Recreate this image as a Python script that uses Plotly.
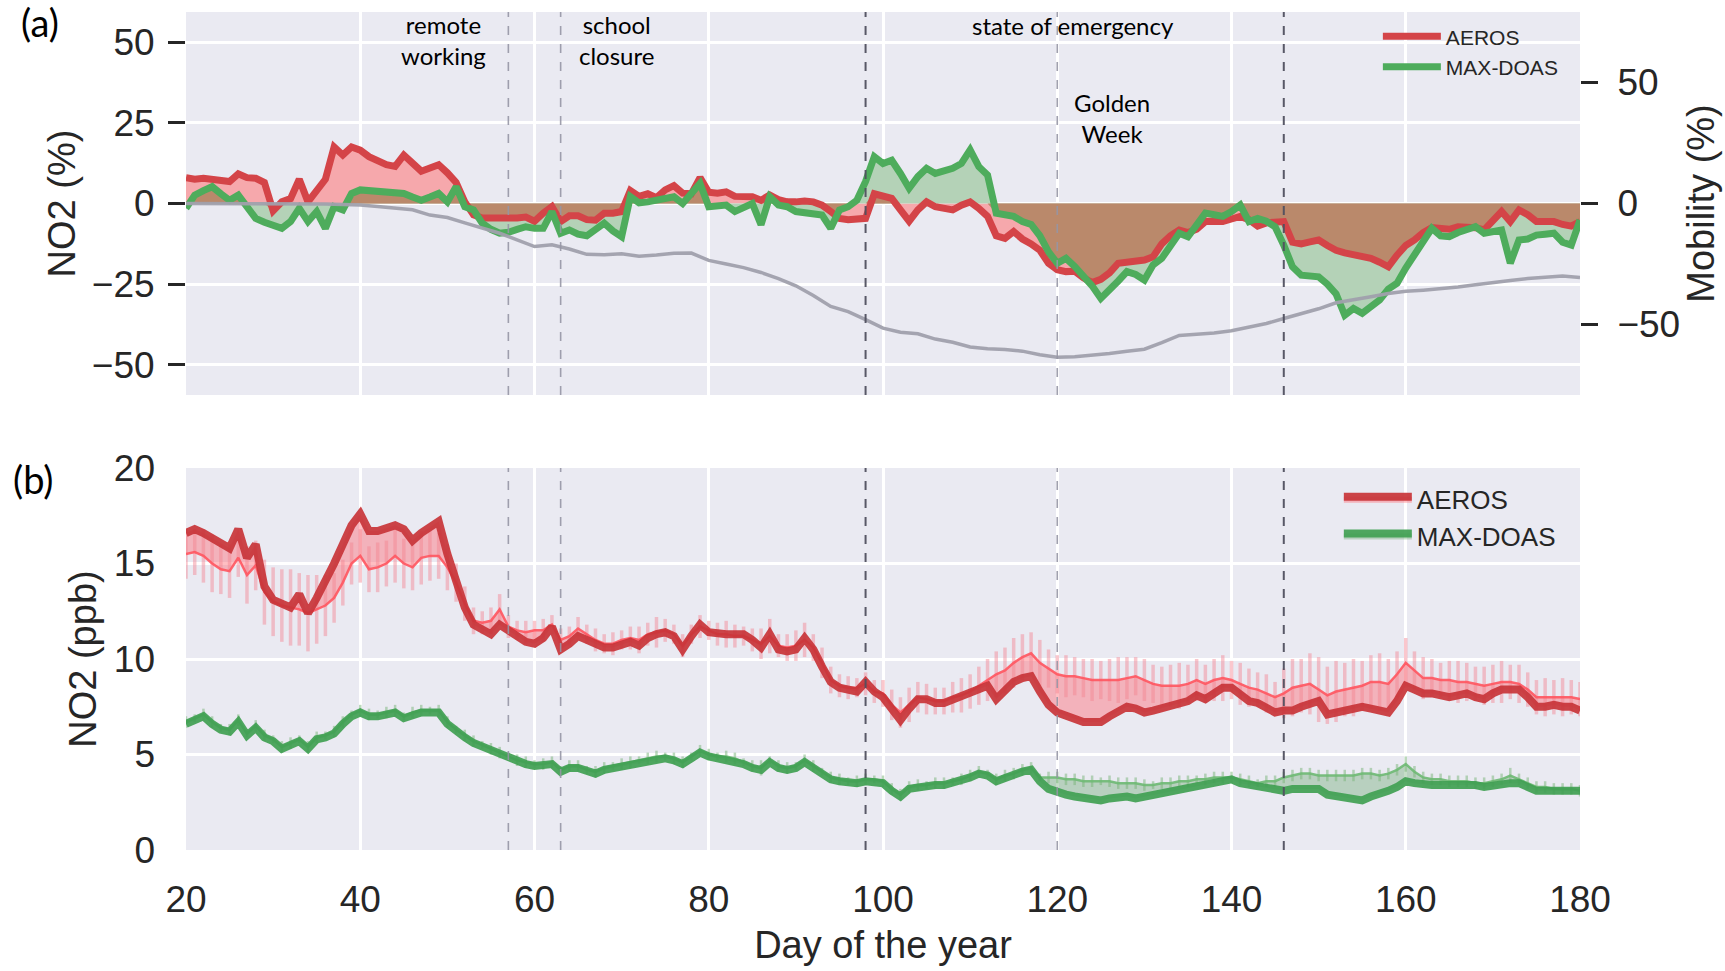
import numpy as np
import plotly.graph_objects as go

# ---------------- data ----------------
DAYS = list(range(20, 181))

# panel (a): relative change of NO2 (%)
AEROS_PCT = [
    8.0, 7.5, 7.8, 7.5, 7.3, 6.8, 9.2, 8.0, 7.8, 6.5,
    -2.3, 0.5, 1.5, 7.5, 0.5, 4.0, 7.5, 17.5, 15.0, 17.5,
    16.5, 14.5, 13.0, 12.0, 11.5, 15.0, 12.5, 10.0, 11.0, 12.0,
    9.5, 6.5, 0.5, -3.5, -4.5, -4.5, -5.0, -5.0, -4.5, -4.2,
    -5.5, -3.0, -1.0, -5.6, -3.8, -3.8, -5.0, -5.2, -3.0, -3.0,
    -2.5, 4.0, 2.2, 3.0, 1.8, 4.2, 5.5, 3.2, 3.0, 8.0,
    3.5, 3.2, 3.6, 2.2, 2.0, 2.1, 1.0, 2.6, 1.2, 0.5,
    0.5, 0.8, 0.5, -0.5, -2.5, -4.6, -5.0, -4.8, -4.6, 3.0,
    2.2, 1.6, -2.0, -5.5, -2.0, 0.5, -1.0, -1.5, -2.0, -0.5,
    0.5, -1.5, -4.0, -10.0, -10.8, -8.7, -11.0, -12.5, -14.5, -18.5,
    -20.5, -21.1, -21.0, -23.0, -24.5, -23.5, -21.5, -18.5, -18.2, -18.0,
    -17.5, -16.5, -12.5, -10.0, -8.2, -9.0, -8.0, -5.6, -5.6, -5.6,
    -4.8, -4.0, -5.0, -7.0, -6.0, -5.6, -5.6, -12.0, -12.5, -11.9,
    -11.3, -13.0, -14.5, -15.3, -15.8, -16.5, -17.0, -18.2, -19.6, -16.0,
    -13.0, -11.3, -9.0, -7.5, -8.0, -8.0, -7.2, -7.2, -7.5, -8.2,
    -5.0, -2.5, -5.6, -2.0, -3.5, -5.6, -5.6, -5.6, -6.5, -7.0,
    -5.6,
]
MAXDOAS_PCT = [
    -1.5, 2.6, 4.0, 5.2, 3.0, 1.0, 2.6, -1.0, -4.6, -5.8,
    -6.5, -7.7, -5.6, -1.5, -5.6, -2.5, -7.7, -1.0, -2.0, 3.1,
    4.2, 4.0, 3.8, 3.6, 3.4, 3.1, 2.0, 1.0, 2.0, 3.1,
    0.5, 5.2, -1.0, -2.0, -6.1, -8.0, -9.2, -8.9, -8.0, -7.2,
    -7.7, -7.7, -2.5, -9.2, -8.2, -9.5, -10.0, -8.0, -6.1, -8.5,
    -10.3, 2.1, 0.2, 0.5, 1.0, 1.6, 2.1, 0.0, 3.0, 6.2,
    -1.0, -0.8, -0.5, -2.5, -1.0, 0.0, -6.6, 2.1, -0.5, -1.0,
    -2.5, -2.8, -3.0, -3.6, -7.7, -2.0, -1.0, 1.0, 6.8, 14.5,
    12.4, 13.4, 9.3, 4.7, 8.3, 10.9, 9.3, 10.0, 10.9, 12.4,
    16.6, 11.4, 8.8, -3.0, -3.5, -4.0, -5.6, -6.5, -10.0, -15.0,
    -18.5, -17.0, -19.5, -22.5, -25.5, -29.4, -27.0, -24.0, -21.1, -22.0,
    -23.7, -19.0, -17.0, -13.0, -9.2, -10.3, -7.0, -3.0, -3.5, -4.0,
    -2.5, -0.5, -5.6, -4.6, -5.5, -7.2, -12.9, -19.6, -22.2, -22.5,
    -22.7, -25.0, -28.0, -34.6, -32.5, -34.0, -32.0, -29.9, -26.5, -24.7,
    -20.0, -16.0, -12.0, -7.7, -10.0, -10.3, -9.0, -8.2, -7.2, -9.2,
    -8.6, -8.2, -18.5, -11.3, -11.0, -9.8, -9.5, -9.2, -12.0, -12.9,
    -5.1,
]
MOB_DAYS = list(range(20, 181, 2))
MOBILITY = [
    0.0, 0.0, 0.0, 0.0, 0.0, 0.0, 0.0, 0.0, -0.2, -0.4,
    -0.6, -1.2, -1.8, -2.6, -4.8, -5.8, -8.0, -10.0, -12.3, -15.0,
    -17.8, -17.1, -18.8, -21.0, -21.2, -20.8, -21.8, -21.3, -20.6, -20.5,
    -23.5, -25.0, -26.5, -28.5, -31.0, -34.0, -38.0, -42.5, -44.7, -48.0,
    -51.5, -53.2, -53.8, -56.0, -57.3, -59.3, -60.0, -60.3, -61.0, -62.5,
    -63.5, -63.3, -62.8, -62.0, -61.0, -60.2, -57.5, -54.5, -54.0, -53.5,
    -52.6, -51.2, -49.6, -47.5, -45.5, -43.5, -41.0, -39.6, -38.5, -37.2,
    -36.3, -35.8, -35.3, -34.5, -33.6, -32.6, -31.8, -31.0, -30.5, -30.0,
    -30.6,
]

# panel (b): NO2 concentrations (ppb)
AEROS_PPB = [
    16.6, 16.8, 16.6, 16.3, 16.0, 15.8, 16.8, 15.3, 16.0, 13.8,
    13.1, 12.9, 12.7, 13.4, 12.4, 13.2, 14.0, 15.0, 16.0, 17.0,
    17.6, 16.7, 16.7, 16.8, 17.0, 16.8, 16.2, 16.6, 16.9, 17.2,
    15.5, 14.0, 12.7, 11.8, 11.5, 11.3, 11.8, 11.5, 11.1, 10.9,
    10.8, 11.1, 11.7, 10.5, 10.8, 11.2, 11.0, 10.8, 10.6, 10.6,
    10.8, 10.9, 10.7, 11.1, 11.3, 11.4, 11.2, 10.5, 11.2, 11.8,
    11.4, 11.3, 11.3, 11.3, 11.3, 11.0, 10.6, 11.3, 10.5, 10.4,
    10.5, 11.1, 10.5, 9.6, 8.8, 8.5, 8.4, 8.3, 8.8, 8.3,
    8.0, 7.4, 6.8, 7.4, 7.9, 7.9, 7.7, 7.7, 7.9, 8.0,
    8.2, 8.5, 8.6, 7.9, 8.3, 8.8, 9.0, 9.1, 8.3, 7.6,
    7.2, 7.0, 6.9, 6.7, 6.7, 6.7, 7.0, 7.3, 7.5, 7.4,
    7.2, 7.3, 7.4, 7.5, 7.6, 7.8, 8.1, 7.9, 8.2, 8.5,
    8.5, 8.1, 7.8, 7.7, 7.5, 7.2, 7.3, 7.3, 7.5, 7.6,
    7.8, 7.1, 7.2, 7.3, 7.4, 7.5, 7.4, 7.3, 7.2, 7.8,
    8.6, 8.4, 8.2, 8.2, 8.1, 8.0, 8.1, 8.2, 8.0, 7.9,
    8.2, 8.4, 8.4, 8.4, 8.0, 7.5, 7.5, 7.6, 7.5, 7.5,
    7.3,
]
AEROS_PPB_REF = [
    15.5, 15.6, 15.4, 15.0, 14.7, 14.6, 15.3, 14.4, 14.9, 13.5,
    13.0, 12.8, 12.7, 12.6, 12.4, 12.6, 12.8, 13.2, 14.0, 15.0,
    15.4, 14.7, 14.8, 15.0, 15.4, 15.0, 14.8, 15.3, 15.4, 15.4,
    14.8, 14.0, 12.9, 12.0, 11.9, 12.0, 12.6, 11.7, 11.5, 11.4,
    11.5, 11.5, 11.8, 11.0, 11.2, 11.6, 11.3, 11.0, 10.8, 10.8,
    11.0, 11.1, 11.0, 11.3, 11.4, 11.5, 11.3, 10.7, 11.3, 11.7,
    11.5, 11.3, 11.3, 11.2, 11.2, 11.0, 10.8, 11.2, 10.7, 10.6,
    10.7, 11.0, 10.6, 9.8, 8.9, 8.6, 8.5, 8.5, 8.7, 8.3,
    8.2, 7.6, 7.2, 7.6, 8.0, 7.9, 7.8, 7.8, 8.0, 8.1,
    8.3, 8.6, 8.9, 9.2, 9.4, 9.8, 10.1, 10.3, 9.8, 9.5,
    9.2, 9.1, 9.1, 9.0, 8.9, 8.9, 8.9, 8.9, 9.0, 9.1,
    8.9, 8.7, 8.6, 8.6, 8.6, 8.7, 8.9, 8.7, 8.9, 9.0,
    8.9, 8.7, 8.5, 8.4, 8.2, 8.0, 8.2, 8.5, 8.6, 8.7,
    8.4, 8.1, 8.3, 8.4, 8.5, 8.6, 8.8, 8.8, 8.7, 9.2,
    9.8, 9.4, 9.0, 9.0, 8.9, 8.9, 8.8, 8.8, 8.7, 8.6,
    8.7, 8.8, 8.8, 8.7, 8.4, 8.0, 8.0, 8.0, 8.0, 8.0,
    7.9,
]
AEROS_PPB_ERR = [
    1.3, 1.2, 1.4, 1.5, 1.3, 1.4, 1.0, 1.5, 1.3, 1.7,
    1.8, 1.9, 2.0, 1.9, 2.0, 1.8, 1.6, 1.3, 1.2, 1.1,
    1.4, 1.2, 1.3, 1.2, 1.4, 1.3, 1.2, 1.4, 1.3, 1.2,
    1.2, 1.0, 0.9, 0.7, 0.6, 0.7, 0.8, 0.6, 0.5, 0.6,
    0.5, 0.6, 0.5, 0.6, 0.5, 0.6, 0.5, 0.6, 0.5, 0.6,
    0.5, 0.6, 0.7, 0.6, 0.8, 0.6, 0.5, 0.6, 0.5, 0.6,
    0.5, 0.6, 0.7, 0.6, 0.5, 0.6, 0.8, 0.9, 0.6, 0.7,
    0.8, 0.9, 0.7, 0.8, 0.7, 0.6, 0.6, 0.5, 0.6, 0.6,
    0.7, 0.8, 0.8, 0.9, 0.8, 0.8, 0.7, 0.7, 0.8, 0.9,
    0.9, 1.0, 1.1, 1.2, 1.2, 1.3, 1.2, 1.1, 1.2, 1.0,
    1.0, 1.1, 1.0, 1.0, 1.1, 1.0, 1.1, 1.2, 1.1, 1.0,
    1.1, 1.0, 1.0, 1.1, 1.2, 1.0, 1.1, 1.0, 1.1, 1.2,
    1.0, 1.1, 1.0, 0.9, 1.0, 0.8, 1.3, 1.5, 1.4, 1.6,
    1.7, 1.5, 1.6, 1.4, 1.5, 1.3, 1.4, 1.5, 1.3, 1.2,
    1.3, 1.0, 1.1, 1.0, 0.9, 1.0, 1.1, 1.0, 0.9, 1.0,
    1.0, 1.1, 0.9, 1.0, 0.9, 0.9, 1.0, 0.9, 1.0, 0.9,
    0.9,
]
MAXDOAS_PPB = [
    6.6, 6.8, 7.0, 6.6, 6.3, 6.2, 6.7, 6.0, 6.4, 5.9,
    5.7, 5.3, 5.5, 5.7, 5.3, 5.8, 5.9, 6.1, 6.6, 7.0,
    7.2, 7.0, 7.0, 7.1, 7.2, 6.9, 7.1, 7.2, 7.2, 7.2,
    6.6, 6.2, 5.9, 5.6, 5.4, 5.2, 5.0, 4.8, 4.6, 4.5,
    4.4, 4.4, 4.5, 4.1, 4.3, 4.3, 4.1, 4.0, 4.2, 4.3,
    4.4, 4.5, 4.6, 4.7, 4.8, 4.8, 4.7, 4.5, 4.8, 5.1,
    4.9, 4.8, 4.8, 4.7, 4.5, 4.3, 4.2, 4.6, 4.3, 4.2,
    4.3, 4.6, 4.3, 4.0, 3.7, 3.6, 3.5, 3.5, 3.6, 3.6,
    3.5, 3.1, 2.8, 3.2, 3.3, 3.3, 3.4, 3.4, 3.5, 3.6,
    3.8, 4.0, 3.9, 3.6, 3.8, 3.9, 4.1, 4.2, 3.6, 3.2,
    3.0, 2.9, 2.8, 2.7, 2.6, 2.6, 2.7, 2.8, 2.8, 2.7,
    2.8, 2.9, 3.0, 3.1, 3.2, 3.2, 3.3, 3.4, 3.6, 3.7,
    3.7, 3.5, 3.4, 3.3, 3.3, 3.1, 3.1, 3.2, 3.2, 3.2,
    3.2, 2.9, 2.8, 2.7, 2.7, 2.6, 2.8, 2.9, 3.1, 3.3,
    3.6, 3.5, 3.4, 3.4, 3.4, 3.4, 3.5, 3.5, 3.4, 3.3,
    3.4, 3.5, 3.5, 3.5, 3.3, 3.1, 3.1, 3.1, 3.0, 3.0,
    3.1,
]
MAXDOAS_PPB_REF = [
    6.7, 6.9, 7.1, 6.7, 6.4, 6.3, 6.8, 6.1, 6.5, 6.0,
    5.8, 5.4, 5.6, 5.8, 5.4, 5.9, 6.0, 6.2, 6.7, 7.1,
    7.3, 7.1, 7.1, 7.2, 7.3, 7.0, 7.2, 7.3, 7.3, 7.3,
    6.7, 6.3, 6.0, 5.7, 5.5, 5.3, 5.1, 4.9, 4.7, 4.6,
    4.5, 4.5, 4.6, 4.2, 4.4, 4.4, 4.2, 4.1, 4.3, 4.4,
    4.5, 4.6, 4.7, 4.8, 4.9, 4.9, 4.8, 4.6, 4.9, 5.2,
    5.0, 4.9, 4.9, 4.8, 4.6, 4.4, 4.3, 4.7, 4.4, 4.3,
    4.4, 4.7, 4.4, 4.1, 3.8, 3.7, 3.6, 3.6, 3.7, 3.7,
    3.6, 3.2, 2.9, 3.3, 3.4, 3.4, 3.5, 3.5, 3.6, 3.7,
    3.9, 4.1, 4.0, 3.7, 3.9, 4.0, 4.2, 4.3, 3.8, 3.8,
    3.8, 3.7, 3.7, 3.6, 3.6, 3.6, 3.6, 3.5, 3.5, 3.5,
    3.4, 3.4, 3.5, 3.5, 3.6, 3.6, 3.7, 3.7, 3.8, 3.8,
    3.8, 3.7, 3.6, 3.5, 3.6, 3.6, 3.8, 3.9, 4.0, 4.0,
    3.9, 3.9, 3.9, 3.9, 3.9, 4.0, 4.0, 3.9, 4.0, 4.2,
    4.5, 4.1, 3.8, 3.7, 3.7, 3.6, 3.6, 3.6, 3.5, 3.5,
    3.6, 3.7, 3.9, 3.7, 3.5, 3.3, 3.3, 3.2, 3.2, 3.2,
    3.1,
]
MAXDOAS_PPB_ERR = [
    0.3, 0.2, 0.3, 0.3, 0.2, 0.3, 0.3, 0.2, 0.3, 0.3,
    0.2, 0.3, 0.3, 0.2, 0.3, 0.3, 0.2, 0.3, 0.3, 0.2,
    0.3, 0.3, 0.2, 0.3, 0.3, 0.2, 0.3, 0.3, 0.2, 0.3,
    0.3, 0.2, 0.3, 0.3, 0.2, 0.3, 0.3, 0.2, 0.3, 0.3,
    0.2, 0.3, 0.3, 0.2, 0.3, 0.3, 0.2, 0.3, 0.3, 0.2,
    0.3, 0.3, 0.2, 0.3, 0.3, 0.2, 0.3, 0.3, 0.2, 0.3,
    0.3, 0.2, 0.3, 0.3, 0.2, 0.3, 0.4, 0.2, 0.3, 0.3,
    0.2, 0.3, 0.3, 0.2, 0.3, 0.3, 0.2, 0.3, 0.3, 0.2,
    0.3, 0.3, 0.3, 0.3, 0.3, 0.2, 0.3, 0.3, 0.2, 0.3,
    0.3, 0.3, 0.2, 0.3, 0.3, 0.3, 0.3, 0.3, 0.2, 0.3,
    0.3, 0.3, 0.3, 0.3, 0.3, 0.2, 0.3, 0.3, 0.3, 0.3,
    0.3, 0.2, 0.3, 0.3, 0.3, 0.3, 0.2, 0.3, 0.3, 0.3,
    0.3, 0.3, 0.3, 0.2, 0.3, 0.3, 0.3, 0.3, 0.3, 0.3,
    0.3, 0.3, 0.3, 0.3, 0.3, 0.3, 0.3, 0.3, 0.3, 0.3,
    0.4, 0.3, 0.3, 0.3, 0.3, 0.3, 0.3, 0.3, 0.3, 0.3,
    0.3, 0.3, 0.4, 0.3, 0.3, 0.3, 0.3, 0.3, 0.3, 0.3,
    0.3,
]

X_TICKS = [20, 40, 60, 80, 100, 120, 140, 160, 180]
PCT_TICKS = [-50, -25, 0, 25, 50]
MOB_TICKS = [-50, 0, 50]
PPB_TICKS = [0, 5, 10, 15, 20]

EVENT_DAYS = [57, 63, 98, 120, 146]
EVENT_STRONG = [False, False, True, False, True]

EVENT_TEXT = ["remote<br>working", "school<br>closure", "state of emergency", "Golden<br>Week"]
EVENT_TEXT_X = [49.5, 69.4, 121.8, 126.3]
EVENT_TEXT_Y = [50.5, 50.5, 55.0, 26.6]

# ---------------- styling ----------------
RED = "rgb(212,68,72)"
GREEN = "rgb(78,172,92)"
RED_B = "rgba(200,52,56,0.92)"
GREEN_B = "rgba(64,160,82,0.92)"
BG = "#EAEAF2"
TXT = "#262626"
TICK_FONT = dict(family="Liberation Sans, Arial, sans-serif", size=37, color=TXT)
TITLE_FONT = dict(family="Liberation Sans, Arial, sans-serif", size=38, color=TXT)
ANN_FONT = dict(family="Lato, Noto Sans, sans-serif", size=24, color="black")

r = np.array(AEROS_PCT)
g = np.array(MAXDOAS_PCT)
overlap = np.where(np.sign(r) == np.sign(g), np.sign(r) * np.minimum(np.abs(r), np.abs(g)), 0.0)

fig = go.Figure()

# ---- panel (a) fills ----
fig.add_trace(go.Scatter(x=DAYS, y=AEROS_PCT, mode="none", fill="tozeroy",
                         fillcolor="rgb(246,168,172)", xaxis="x", yaxis="y",
                         showlegend=False, hoverinfo="skip"))
fig.add_trace(go.Scatter(x=DAYS, y=MAXDOAS_PCT, mode="none", fill="tozeroy",
                         fillcolor="rgb(180,210,183)", xaxis="x", yaxis="y",
                         showlegend=False, hoverinfo="skip"))
fig.add_trace(go.Scatter(x=DAYS, y=overlap, mode="none", fill="tozeroy",
                         fillcolor="rgb(186,137,107)", xaxis="x", yaxis="y",
                         showlegend=False, hoverinfo="skip"))
# ---- panel (a) lines ----
fig.add_trace(go.Scatter(x=DAYS, y=AEROS_PCT, mode="lines", name="AEROS",
                         line=dict(color=RED, width=7), xaxis="x", yaxis="y",
                         legend="legend"))
fig.add_trace(go.Scatter(x=DAYS, y=MAXDOAS_PCT, mode="lines", name="MAX-DOAS",
                         line=dict(color=GREEN, width=7), xaxis="x", yaxis="y",
                         legend="legend"))
fig.add_trace(go.Scatter(x=MOB_DAYS, y=MOBILITY, mode="lines", name="Mobility",
                         line=dict(color="rgba(160,160,172,0.95)", width=3.5),
                         xaxis="x", yaxis="y2", showlegend=False))

# ---- panel (b) ----
fig.add_trace(go.Scatter(x=DAYS, y=AEROS_PPB_REF, mode="lines",
                         line=dict(color="rgba(255,85,95,0.9)", width=2.5),
                         error_y=dict(type="data", array=AEROS_PPB_ERR, width=0,
                                      thickness=3.5, color="rgba(244,130,145,0.45)"),
                         xaxis="x2", yaxis="y3", showlegend=False, hoverinfo="skip"))
fig.add_trace(go.Scatter(x=DAYS, y=AEROS_PPB, mode="lines", name="AEROS",
                         line=dict(color=RED_B, width=8), fill="tonexty",
                         fillcolor="rgba(255,110,120,0.45)",
                         xaxis="x2", yaxis="y3", legend="legend2"))
fig.add_trace(go.Scatter(x=DAYS, y=MAXDOAS_PPB_REF, mode="lines",
                         line=dict(color="rgba(110,185,115,0.9)", width=2.5),
                         error_y=dict(type="data", array=MAXDOAS_PPB_ERR, width=0,
                                      thickness=2.5, color="rgba(120,180,120,0.5)"),
                         xaxis="x2", yaxis="y3", showlegend=False, hoverinfo="skip"))
fig.add_trace(go.Scatter(x=DAYS, y=MAXDOAS_PPB, mode="lines", name="MAX-DOAS",
                         line=dict(color=GREEN_B, width=8), fill="tonexty",
                         fillcolor="rgba(110,170,115,0.4)",
                         xaxis="x2", yaxis="y3", legend="legend2"))

# ---- event lines ----
shapes = []
for day, strong in zip(EVENT_DAYS, EVENT_STRONG):
    col = "rgba(80,80,95,0.95)" if strong else "rgba(150,150,165,0.9)"
    w = 2 if strong else 1.6
    for xr, yr in (("x", "y domain"), ("x2", "y3 domain")):
        shapes.append(dict(type="line", xref=xr, yref=yr, x0=day, x1=day, y0=0, y1=1,
                           line=dict(color=col, width=w, dash="dash"), layer="above"))

annotations = []
for txt, ax, ay in zip(EVENT_TEXT, EVENT_TEXT_X, EVENT_TEXT_Y):
    annotations.append(dict(text=txt, x=ax, y=ay, xref="x", yref="y", showarrow=False,
                            font=ANN_FONT, xanchor="center", yanchor="middle", align="center"))
for lab, px, py in (("(a)", -0.105, 0.988), ("(b)", -0.110, 0.4425)):
    annotations.append(dict(text=lab, x=px, y=py, xref="paper", yref="paper", showarrow=False,
                            font=dict(family="Lato, Noto Sans, sans-serif", size=38, color="black"),
                            xanchor="center", yanchor="middle"))

grid = dict(showgrid=True, gridcolor="white", gridwidth=2.5, zeroline=False, showline=False,
            automargin=False)

fig.update_layout(
    width=1725, height=971,
    margin=dict(l=186, r=145, t=12, b=121, autoexpand=False),
    paper_bgcolor="white", plot_bgcolor=BG,
    font=TICK_FONT,
    shapes=shapes, annotations=annotations,
    xaxis=dict(domain=[0, 1], anchor="y", range=[20, 180], tickvals=X_TICKS,
               showticklabels=False, ticks="", **grid),
    yaxis=dict(domain=[0.543, 1], anchor="x", range=[-59.3, 59.3], tickvals=PCT_TICKS,
               ticks="outside", ticklen=17, tickwidth=3, tickcolor=TXT, ticklabelstandoff=6,
               tickfont=TICK_FONT,
               title=dict(text="NO2 (%)", font=TITLE_FONT, standoff=4), **grid),
    yaxis2=dict(overlaying="y", anchor="x", side="right", range=[-79.1, 79.1], tickvals=MOB_TICKS,
                ticks="outside", ticklen=17, tickwidth=3, tickcolor=TXT, ticklabelstandoff=12,
                tickfont=TICK_FONT, showgrid=False, zeroline=False, showline=False,
                automargin=False,
                title=dict(text="Mobility (%)", font=TITLE_FONT, standoff=8)),
    xaxis2=dict(domain=[0, 1], anchor="y3", range=[20, 180], tickvals=X_TICKS,
                ticks="", ticklabelstandoff=24, tickfont=TICK_FONT,
                title=dict(text="Day of the year", font=TITLE_FONT, standoff=12), **grid),
    yaxis3=dict(domain=[0, 0.4558], anchor="x2", range=[0, 20], tickvals=PPB_TICKS,
                ticks="", ticklabelstandoff=30, tickfont=TICK_FONT,
                title=dict(text="NO2 (ppb)", font=TITLE_FONT, standoff=5), **grid),
    legend=dict(x=0.855, y=0.995, xanchor="left", yanchor="top", bgcolor="rgba(0,0,0,0)",
                traceorder="normal", itemwidth=58,
                font=dict(family="Liberation Sans, Arial, sans-serif", size=21, color=TXT)),
    legend2=dict(x=0.827, y=0.447, xanchor="left", yanchor="top", bgcolor="rgba(0,0,0,0)",
                 traceorder="normal", itemwidth=68,
                 font=dict(family="Liberation Sans, Arial, sans-serif", size=26, color=TXT)),
)

fig.write_html("out.html")
